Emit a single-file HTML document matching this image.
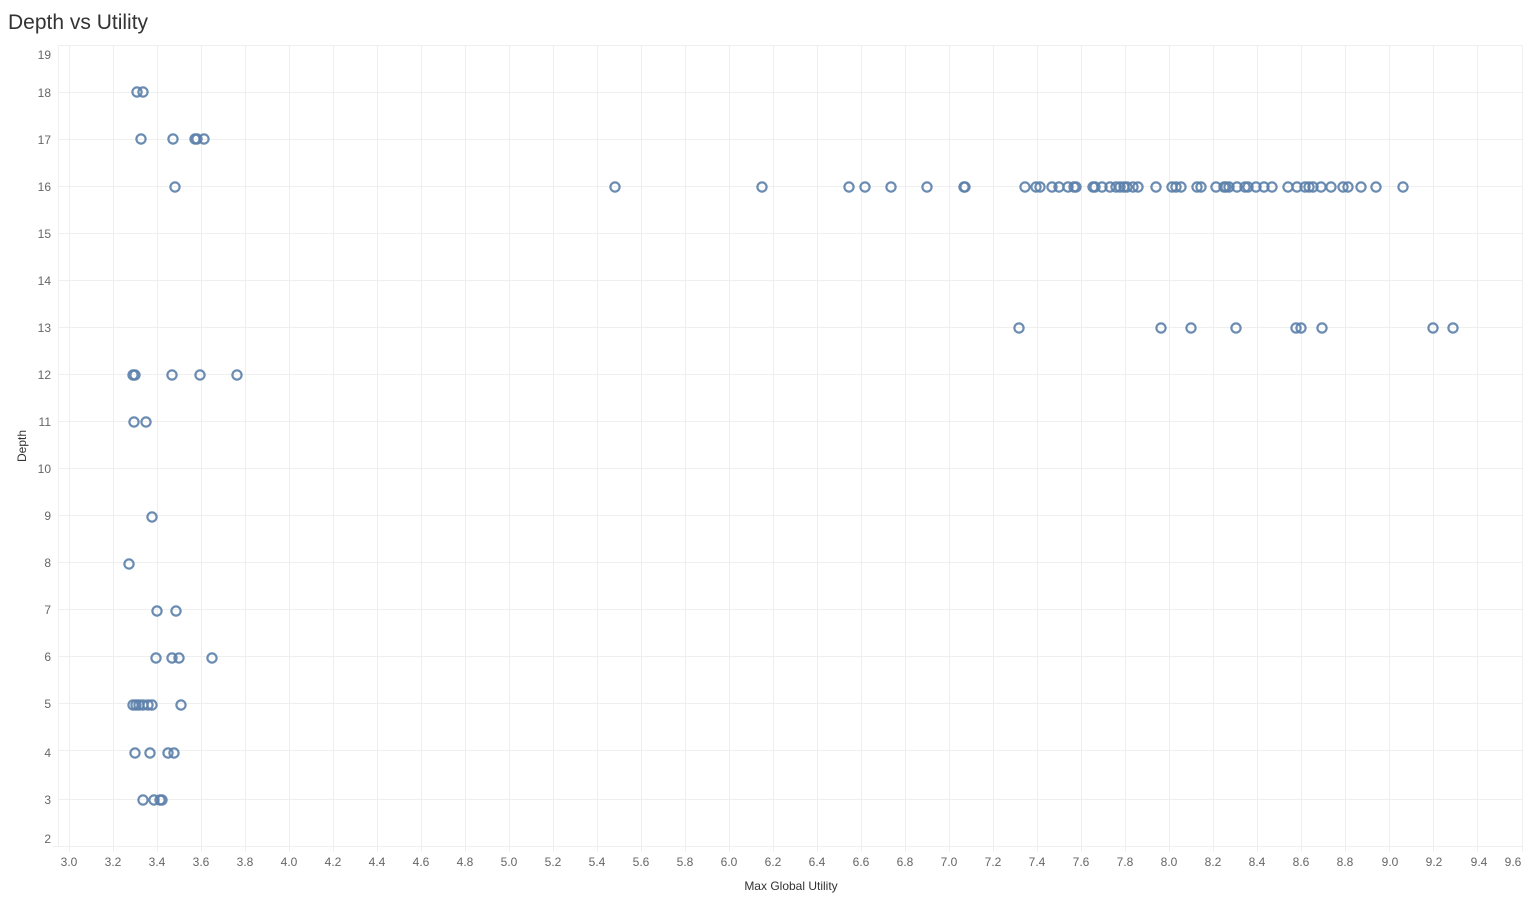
<!DOCTYPE html>
<html><head><meta charset="utf-8"><style>
html,body{margin:0;padding:0;background:#fff;width:1533px;height:903px;overflow:hidden}
svg{display:block;font-family:"Liberation Sans",sans-serif}
</style></head><body>
<svg width="1533" height="903" viewBox="0 0 1533 903" xmlns="http://www.w3.org/2000/svg">
<text x="8" y="29" font-size="21" fill="#333">Depth vs Utility</text>
<g stroke="#efefef" stroke-width="1">
<line x1="58" y1="45.5" x2="1523" y2="45.5"/><line x1="58" y1="92.5" x2="1523" y2="92.5"/><line x1="58" y1="139.5" x2="1523" y2="139.5"/><line x1="58" y1="186.5" x2="1523" y2="186.5"/><line x1="58" y1="233.5" x2="1523" y2="233.5"/><line x1="58" y1="280.5" x2="1523" y2="280.5"/><line x1="58" y1="327.5" x2="1523" y2="327.5"/><line x1="58" y1="374.5" x2="1523" y2="374.5"/><line x1="58" y1="421.5" x2="1523" y2="421.5"/><line x1="58" y1="468.5" x2="1523" y2="468.5"/><line x1="58" y1="515.5" x2="1523" y2="515.5"/><line x1="58" y1="562.5" x2="1523" y2="562.5"/><line x1="58" y1="609.5" x2="1523" y2="609.5"/><line x1="58" y1="656.5" x2="1523" y2="656.5"/><line x1="58" y1="703.5" x2="1523" y2="703.5"/><line x1="58" y1="750.5" x2="1523" y2="750.5"/><line x1="58" y1="799.5" x2="1523" y2="799.5"/><line x1="53" y1="846.5" x2="1523" y2="846.5"/>
<line x1="58.5" y1="45" x2="58.5" y2="847"/>
<line x1="69.5" y1="45" x2="69.5" y2="852"/><line x1="113.5" y1="45" x2="113.5" y2="852"/><line x1="157.5" y1="45" x2="157.5" y2="852"/><line x1="201.5" y1="45" x2="201.5" y2="852"/><line x1="245.5" y1="45" x2="245.5" y2="852"/><line x1="289.5" y1="45" x2="289.5" y2="852"/><line x1="333.5" y1="45" x2="333.5" y2="852"/><line x1="377.5" y1="45" x2="377.5" y2="852"/><line x1="421.5" y1="45" x2="421.5" y2="852"/><line x1="465.5" y1="45" x2="465.5" y2="852"/><line x1="509.5" y1="45" x2="509.5" y2="852"/><line x1="553.5" y1="45" x2="553.5" y2="852"/><line x1="597.5" y1="45" x2="597.5" y2="852"/><line x1="641.5" y1="45" x2="641.5" y2="852"/><line x1="685.5" y1="45" x2="685.5" y2="852"/><line x1="729.5" y1="45" x2="729.5" y2="852"/><line x1="773.5" y1="45" x2="773.5" y2="852"/><line x1="817.5" y1="45" x2="817.5" y2="852"/><line x1="861.5" y1="45" x2="861.5" y2="852"/><line x1="905.5" y1="45" x2="905.5" y2="852"/><line x1="949.5" y1="45" x2="949.5" y2="852"/><line x1="993.5" y1="45" x2="993.5" y2="852"/><line x1="1037.5" y1="45" x2="1037.5" y2="852"/><line x1="1081.5" y1="45" x2="1081.5" y2="852"/><line x1="1125.5" y1="45" x2="1125.5" y2="852"/><line x1="1169.5" y1="45" x2="1169.5" y2="852"/><line x1="1213.5" y1="45" x2="1213.5" y2="852"/><line x1="1257.5" y1="45" x2="1257.5" y2="852"/><line x1="1301.5" y1="45" x2="1301.5" y2="852"/><line x1="1345.5" y1="45" x2="1345.5" y2="852"/><line x1="1389.5" y1="45" x2="1389.5" y2="852"/><line x1="1433.5" y1="45" x2="1433.5" y2="852"/><line x1="1477.5" y1="45" x2="1477.5" y2="852"/><line x1="1522.5" y1="45" x2="1522.5" y2="852"/>
</g>
<g font-size="12" fill="#666" text-anchor="end">
<text x="51" y="59">19</text><text x="51" y="97">18</text><text x="51" y="144">17</text><text x="51" y="191">16</text><text x="51" y="238">15</text><text x="51" y="285">14</text><text x="51" y="332">13</text><text x="51" y="379">12</text><text x="51" y="426">11</text><text x="51" y="473">10</text><text x="51" y="520">9</text><text x="51" y="567">8</text><text x="51" y="614">7</text><text x="51" y="661">6</text><text x="51" y="708">5</text><text x="51" y="757">4</text><text x="51" y="804">3</text><text x="51" y="843">2</text>
</g>
<g font-size="12" fill="#666" text-anchor="middle">
<text x="69" y="866">3.0</text><text x="113" y="866">3.2</text><text x="157" y="866">3.4</text><text x="201" y="866">3.6</text><text x="245" y="866">3.8</text><text x="289" y="866">4.0</text><text x="333" y="866">4.2</text><text x="377" y="866">4.4</text><text x="421" y="866">4.6</text><text x="465" y="866">4.8</text><text x="509" y="866">5.0</text><text x="553" y="866">5.2</text><text x="597" y="866">5.4</text><text x="641" y="866">5.6</text><text x="685" y="866">5.8</text><text x="729" y="866">6.0</text><text x="773" y="866">6.2</text><text x="817" y="866">6.4</text><text x="861" y="866">6.6</text><text x="905" y="866">6.8</text><text x="949" y="866">7.0</text><text x="993" y="866">7.2</text><text x="1037" y="866">7.4</text><text x="1081" y="866">7.6</text><text x="1125" y="866">7.8</text><text x="1169" y="866">8.0</text><text x="1213" y="866">8.2</text><text x="1257" y="866">8.4</text><text x="1301" y="866">8.6</text><text x="1345" y="866">8.8</text><text x="1390" y="866">9.0</text><text x="1434" y="866">9.2</text><text x="1479" y="866">9.4</text><text x="1513" y="866">9.6</text>
</g>
<text x="791" y="890" font-size="12" fill="#333" text-anchor="middle">Max Global Utility</text>
<text transform="translate(26,446) rotate(-90)" font-size="12" fill="#333" text-anchor="middle">Depth</text>
<g fill="none" stroke="#5b7faa" stroke-width="2.2" stroke-opacity="0.9">
<circle cx="137" cy="92" r="4.6"/><circle cx="143" cy="92" r="4.6"/>
<circle cx="141" cy="139" r="4.6"/><circle cx="173" cy="139" r="4.6"/><circle cx="195" cy="139" r="4.6"/><circle cx="197" cy="139" r="4.6"/><circle cx="204" cy="139" r="4.6"/>
<circle cx="175" cy="187" r="4.6"/><circle cx="615" cy="187" r="4.6"/><circle cx="762" cy="187" r="4.6"/><circle cx="849" cy="187" r="4.6"/><circle cx="865" cy="187" r="4.6"/><circle cx="891" cy="187" r="4.6"/><circle cx="927" cy="187" r="4.6"/><circle cx="964" cy="187" r="4.6"/><circle cx="965" cy="187" r="4.6"/>
<circle cx="1025" cy="187" r="4.6"/><circle cx="1036" cy="187" r="4.6"/><circle cx="1040" cy="187" r="4.6"/><circle cx="1052" cy="187" r="4.6"/><circle cx="1059" cy="187" r="4.6"/><circle cx="1068" cy="187" r="4.6"/><circle cx="1074" cy="187" r="4.6"/><circle cx="1076" cy="187" r="4.6"/><circle cx="1093" cy="187" r="4.6"/><circle cx="1095" cy="187" r="4.6"/><circle cx="1102" cy="187" r="4.6"/><circle cx="1110" cy="187" r="4.6"/><circle cx="1116" cy="187" r="4.6"/><circle cx="1120" cy="187" r="4.6"/><circle cx="1124" cy="187" r="4.6"/><circle cx="1127" cy="187" r="4.6"/><circle cx="1133" cy="187" r="4.6"/><circle cx="1138" cy="187" r="4.6"/><circle cx="1156" cy="187" r="4.6"/><circle cx="1172" cy="187" r="4.6"/><circle cx="1176" cy="187" r="4.6"/><circle cx="1181" cy="187" r="4.6"/><circle cx="1197" cy="187" r="4.6"/><circle cx="1201" cy="187" r="4.6"/><circle cx="1216" cy="187" r="4.6"/><circle cx="1224" cy="187" r="4.6"/><circle cx="1226" cy="187" r="4.6"/><circle cx="1229" cy="187" r="4.6"/><circle cx="1237" cy="187" r="4.6"/><circle cx="1245" cy="187" r="4.6"/><circle cx="1248" cy="187" r="4.6"/><circle cx="1256" cy="187" r="4.6"/><circle cx="1264" cy="187" r="4.6"/><circle cx="1272" cy="187" r="4.6"/><circle cx="1288" cy="187" r="4.6"/><circle cx="1297" cy="187" r="4.6"/><circle cx="1305" cy="187" r="4.6"/><circle cx="1309" cy="187" r="4.6"/><circle cx="1313" cy="187" r="4.6"/><circle cx="1321" cy="187" r="4.6"/><circle cx="1331" cy="187" r="4.6"/><circle cx="1343" cy="187" r="4.6"/><circle cx="1348" cy="187" r="4.6"/><circle cx="1361" cy="187" r="4.6"/><circle cx="1376" cy="187" r="4.6"/><circle cx="1403" cy="187" r="4.6"/>
<circle cx="1019" cy="328" r="4.6"/><circle cx="1161" cy="328" r="4.6"/><circle cx="1191" cy="328" r="4.6"/><circle cx="1236" cy="328" r="4.6"/><circle cx="1296" cy="328" r="4.6"/><circle cx="1301" cy="328" r="4.6"/><circle cx="1322" cy="328" r="4.6"/><circle cx="1433" cy="328" r="4.6"/><circle cx="1453" cy="328" r="4.6"/>
<circle cx="133" cy="375" r="4.6"/><circle cx="135" cy="375" r="4.6"/><circle cx="172" cy="375" r="4.6"/><circle cx="200" cy="375" r="4.6"/><circle cx="237" cy="375" r="4.6"/>
<circle cx="134" cy="422" r="4.6"/><circle cx="146" cy="422" r="4.6"/>
<circle cx="152" cy="517" r="4.6"/>
<circle cx="129" cy="564" r="4.6"/>
<circle cx="157" cy="611" r="4.6"/><circle cx="176" cy="611" r="4.6"/>
<circle cx="156" cy="658" r="4.6"/><circle cx="172" cy="658" r="4.6"/><circle cx="179" cy="658" r="4.6"/><circle cx="212" cy="658" r="4.6"/>
<circle cx="133" cy="705" r="4.6"/><circle cx="136" cy="705" r="4.6"/><circle cx="139" cy="705" r="4.6"/><circle cx="143" cy="705" r="4.6"/><circle cx="148" cy="705" r="4.6"/><circle cx="152" cy="705" r="4.6"/><circle cx="181" cy="705" r="4.6"/>
<circle cx="135" cy="753" r="4.6"/><circle cx="150" cy="753" r="4.6"/><circle cx="168" cy="753" r="4.6"/><circle cx="174" cy="753" r="4.6"/>
<circle cx="143" cy="800" r="4.6"/><circle cx="154" cy="800" r="4.6"/><circle cx="160" cy="800" r="4.6"/><circle cx="162" cy="800" r="4.6"/>
</g>
</svg>
</body></html>
